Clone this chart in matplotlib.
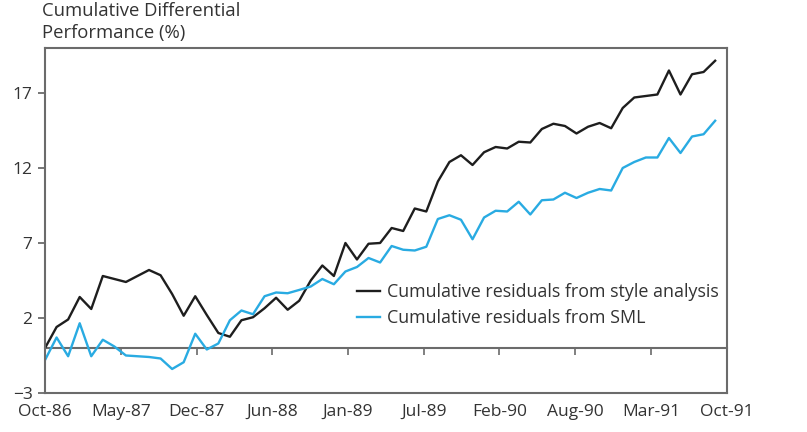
#!/usr/bin/python3

import numpy as np
import matplotlib
matplotlib.use('Agg')
import matplotlib.pyplot as plt

# monthly cumulative residuals, Oct-86 onwards
style_resid = [0.0, 1.4, 1.9, 3.4, 2.6, 4.8, 4.6, 4.4, 4.8, 5.2,
               4.85, 3.6, 2.15, 3.45, 2.2, 1.0, 0.75, 1.85, 2.05, 2.65,
               3.35, 2.55, 3.15, 4.5, 5.5, 4.8, 7.0, 5.9, 6.95, 7.0,
               8.0, 7.8, 9.3, 9.1, 11.1, 12.4, 12.85, 12.2, 13.05, 13.4,
               13.3, 13.75, 13.7, 14.6, 14.95, 14.8, 14.3, 14.75, 15.0, 14.65,
               16.0, 16.7, 16.8, 16.9, 18.5, 16.9, 18.25, 18.4, 19.15]
sml_resid = [-0.8, 0.7, -0.55, 1.65, -0.55, 0.55, 0.1, -0.5, -0.55, -0.6,
             -0.7, -1.4, -0.95, 0.95, -0.1, 0.3, 1.85, 2.5, 2.25, 3.45,
             3.7, 3.65, 3.87, 4.1, 4.6, 4.25, 5.1, 5.4, 6.0, 5.7,
             6.8, 6.55, 6.5, 6.75, 8.6, 8.85, 8.55, 7.25, 8.7, 9.15,
             9.1, 9.75, 8.9, 9.85, 9.9, 10.35, 10.0, 10.35, 10.6, 10.5,
             12.0, 12.4, 12.7, 12.7, 14.0, 13.0, 14.1, 14.25, 15.15]
x_labels = ['Oct-86', 'May-87', 'Dec-87', 'Jun-88', 'Jan-89',
            'Jul-89', 'Feb-90', 'Aug-90', 'Mar-91', 'Oct-91']
y_ticks = [-3, 2, 7, 12, 17]

plt.rcParams['font.family'] = ['Open Sans', 'DejaVu Sans']
plt.rcParams['axes.unicode_minus'] = True

grey = '#6b6b6b'
txt = '#333333'

fig = plt.figure(figsize=(8.07, 4.32), dpi=100)
ax = fig.add_axes([0.0558, 0.0903, 0.8447, 0.7986])

months = np.arange(len(style_resid))
xmax = len(style_resid)
ymin, ymax = -3, 20

ax.plot(months, style_resid, color='#1e1e1e', lw=1.7,
        label='Cumulative residuals from style analysis')
ax.plot(months, sml_resid, color='#29abe2', lw=1.7,
        label='Cumulative residuals from SML')

ax.set_xlim(0, xmax)
ax.set_ylim(ymin, ymax)

tick_pos = np.linspace(0, xmax, len(x_labels))
ax.set_xticks(tick_pos)
ax.set_xticklabels(x_labels, fontsize=12.5, color=txt)
ax.tick_params(axis='x', length=0, pad=8)
ax.set_yticks(y_ticks)
ax.set_yticklabels([str(v) if v >= 0 else '\u2212' + str(-v) for v in y_ticks],
                   fontsize=12.5, color=txt)
ax.tick_params(axis='y', length=5, width=1.3, color=grey, pad=4)

for s in ax.spines.values():
    s.set_color(grey)
    s.set_linewidth(1.5)

# zero line with its own small ticks
zero_frac = (0 - ymin) / (ymax - ymin)
sec = ax.secondary_xaxis(zero_frac)
sec.set_xticks(tick_pos)
sec.set_xticklabels([])
sec.tick_params(axis='x', direction='out', length=5, width=1.2, color=grey)
sec.spines['bottom'].set_color(grey)
sec.spines['bottom'].set_linewidth(1.5)

leg = ax.legend(loc='upper left', bbox_to_anchor=(0.458, 0.318), frameon=False,
                fontsize=12.9, handlelength=1.25, handletextpad=0.4,
                borderpad=0, borderaxespad=0, labelspacing=0.42)
for t in leg.get_texts():
    t.set_color(txt)

fig.text(0.052, 0.995, 'Cumulative Differential\nPerformance (%)', ha='left',
         va='top', fontsize=13.3, color=txt, linespacing=1.25)

fig.savefig('out.png', dpi=100)
